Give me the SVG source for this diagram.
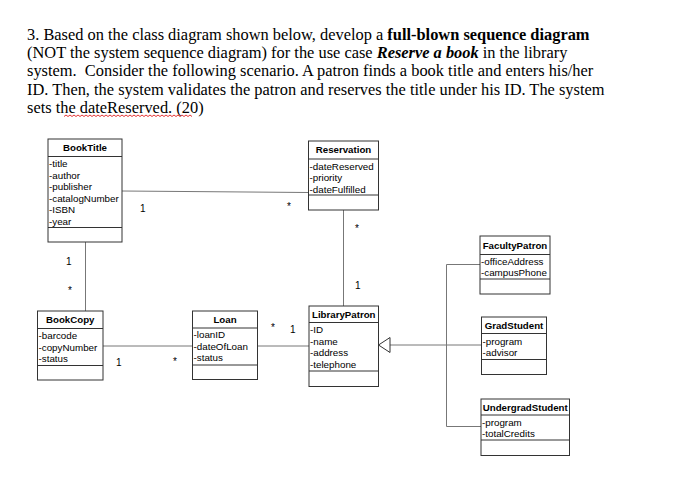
<svg xmlns="http://www.w3.org/2000/svg" width="675" height="484" viewBox="0 0 675 484">
<style>
.q{font-family:"Liberation Serif","Times New Roman",serif;font-size:16.4px;fill:#000}
.box{fill:#fff;stroke:#333;stroke-width:1}
.sep{stroke:#333;stroke-width:1}
.t{font-family:"Liberation Sans",Arial,sans-serif;font-size:9.7px;font-weight:bold;text-anchor:middle;fill:#000}
.a{font-family:"Liberation Sans",Arial,sans-serif;font-size:9.8px;fill:#000}
.c{stroke:#777;stroke-width:1;fill:none}
.m{font-family:"Liberation Sans",Arial,sans-serif;font-size:10px;fill:#000}
</style>
<rect width="675" height="484" fill="#fff"/>
<g id="question">
<text class="q" x="27" y="39.5">3. Based on the class diagram shown below, develop a <tspan font-weight="bold">full-blown sequence diagram</tspan></text>
<text class="q" x="27" y="57.5">(NOT the system sequence diagram) for the use case <tspan font-weight="bold" font-style="italic">Reserve a book</tspan> in the library</text>
<text class="q" x="27" y="76" xml:space="preserve">system.  Consider the following scenario. A patron finds a book title and enters his/her</text>
<text class="q" x="27" y="94.5">ID. Then, the system validates the patron and reserves the title under his ID. The system</text>
<text class="q" x="27" y="113">sets the dateReserved. (20)</text>
<path d="M64 116.5 l2 -1.5 l2 1.5 l2 -1.5 l2 1.5 l2 -1.5 l2 1.5 l2 -1.5 l2 1.5 l2 -1.5 l2 1.5 l2 -1.5 l2 1.5 l2 -1.5 l2 1.5 l2 -1.5 l2 1.5 l2 -1.5 l2 1.5 l2 -1.5 l2 1.5 l2 -1.5 l2 1.5 l2 -1.5 l2 1.5 l2 -1.5 l2 1.5 l2 -1.5 l2 1.5 l2 -1.5 l2 1.5 l2 -1.5 l2 1.5 l2 -1.5 l2 1.5 l2 -1.5 l2 1.5 l2 -1.5 l2 1.5 l2 -1.5 l2 1.5 l2 -1.5 l2 1.5 l2 -1.5 l2 1.5 l2 -1.5 l2 1.5 l2 -1.5 l2 1.5 l2 -1.5 l2 1.5 l2 -1.5 l2 1.5 l2 -1.5 l2 1.5 l2 -1.5 l2 1.5 l2 -1.5 l2 1.5 l2 -1.5 l2 1.5 l2 -1.5 l2 1.5 l2 -1.5 l2 1.5" fill="none" stroke="#d00" stroke-width="0.8"/>
</g>
<g id="connectors">
<path class="c" d="M122 191 L308.5 192.5"/>
<path class="c" d="M85.5 242 V311"/>
<path class="c" d="M343.5 210 V306"/>
<path class="c" d="M103 346 H192.5"/>
<path class="c" d="M257.5 346 H309"/>
<path class="c" d="M390 345 H481.5"/>
<path class="c" d="M446.5 264.5 V426.5 H481"/>
<path class="c" d="M446.5 264.5 H480"/>
<polygon points="378.5,345 390,337.5 390,352.5" fill="#fff" stroke="#333" stroke-width="1"/>
<text class="m" x="140" y="212">1</text>
<text class="m" x="287" y="210">*</text>
<text class="m" x="355" y="232">*</text>
<text class="m" x="355" y="289">1</text>
<text class="m" x="66" y="265">1</text>
<text class="m" x="68" y="294">*</text>
<text class="m" x="116" y="366">1</text>
<text class="m" x="173" y="365">*</text>
<text class="m" x="271" y="331">*</text>
<text class="m" x="290" y="333">1</text>
</g>
<g id="BookTitle">
<rect class="box" x="48" y="139" width="74" height="103"/>
<line class="sep" x1="48" y1="156.5" x2="122" y2="156.5"/>
<line class="sep" x1="48" y1="227.5" x2="122" y2="227.5"/>
<text class="t" x="85" y="151">BookTitle</text>
<text class="a" x="49" y="167">-title</text>
<text class="a" x="49" y="178.5">-author</text>
<text class="a" x="49" y="190">-publisher</text>
<text class="a" x="49" y="201.5">-catalogNumber</text>
<text class="a" x="49" y="213">-ISBN</text>
<text class="a" x="49" y="224.5">-year</text>
</g>
<g id="Reservation">
<rect class="box" x="308.5" y="141" width="70" height="69"/>
<line class="sep" x1="308.5" y1="159" x2="378.5" y2="159"/>
<line class="sep" x1="308.5" y1="195" x2="378.5" y2="195"/>
<text class="t" x="343.5" y="153">Reservation</text>
<text class="a" x="309.5" y="169.5">-dateReserved</text>
<text class="a" x="309.5" y="181">-priority</text>
<text class="a" x="309.5" y="192.5">-dateFulfilled</text>
</g>
<g id="BookCopy">
<rect class="box" x="37.5" y="311" width="65.5" height="69"/>
<line class="sep" x1="37.5" y1="328.5" x2="103" y2="328.5"/>
<line class="sep" x1="37.5" y1="365.5" x2="103" y2="365.5"/>
<text class="t" x="70.25" y="323">BookCopy</text>
<text class="a" x="38.5" y="339">-barcode</text>
<text class="a" x="38.5" y="350.5">-copyNumber</text>
<text class="a" x="38.5" y="362">-status</text>
</g>
<g id="Loan">
<rect class="box" x="192.5" y="311" width="65" height="68.5"/>
<line class="sep" x1="192.5" y1="328" x2="257.5" y2="328"/>
<line class="sep" x1="192.5" y1="365" x2="257.5" y2="365"/>
<text class="t" x="225" y="322.5">Loan</text>
<text class="a" x="193.5" y="338">-loanID</text>
<text class="a" x="193.5" y="349.5">-dateOfLoan</text>
<text class="a" x="193.5" y="361">-status</text>
</g>
<g id="LibraryPatron">
<rect class="box" x="309" y="306" width="69.5" height="80.5"/>
<line class="sep" x1="309" y1="322.5" x2="378.5" y2="322.5"/>
<line class="sep" x1="309" y1="371" x2="378.5" y2="371"/>
<text class="t" x="343.75" y="317.5">LibraryPatron</text>
<text class="a" x="310" y="333">-ID</text>
<text class="a" x="310" y="344.5">-name</text>
<text class="a" x="310" y="356">-address</text>
<text class="a" x="310" y="367.5">-telephone</text>
</g>
<g id="FacultyPatron">
<rect class="box" x="480" y="236" width="70" height="58"/>
<line class="sep" x1="480" y1="254.5" x2="550" y2="254.5"/>
<line class="sep" x1="480" y1="279" x2="550" y2="279"/>
<text class="t" x="515" y="248.5">FacultyPatron</text>
<text class="a" x="481" y="264.5">-officeAddress</text>
<text class="a" x="481" y="276">-campusPhone</text>
</g>
<g id="GradStudent">
<rect class="box" x="481.5" y="317" width="65" height="57.5"/>
<line class="sep" x1="481.5" y1="333.5" x2="546.5" y2="333.5"/>
<line class="sep" x1="481.5" y1="359.5" x2="546.5" y2="359.5"/>
<text class="t" x="514" y="329">GradStudent</text>
<text class="a" x="482.5" y="345">-program</text>
<text class="a" x="482.5" y="356">-advisor</text>
</g>
<g id="UndergradStudent">
<rect class="box" x="481" y="399" width="88.5" height="56.5"/>
<line class="sep" x1="481" y1="415" x2="569.5" y2="415"/>
<line class="sep" x1="481" y1="440" x2="569.5" y2="440"/>
<text class="t" x="525.25" y="410.5">UndergradStudent</text>
<text class="a" x="482" y="425.5">-program</text>
<text class="a" x="482" y="436.5">-totalCredits</text>
</g>
</svg>
